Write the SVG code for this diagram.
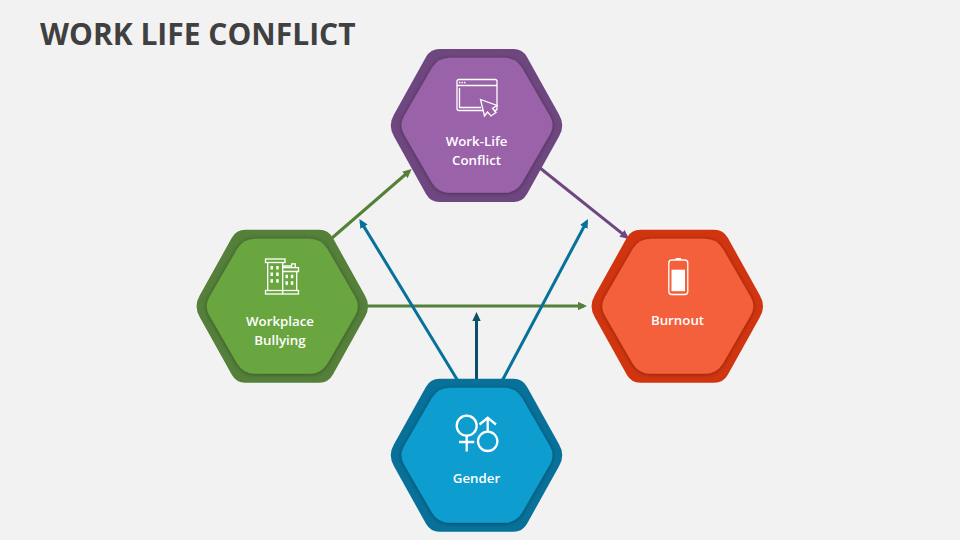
<svg xmlns="http://www.w3.org/2000/svg" width="960" height="540" viewBox="0 0 960 540">
<style>
text{font-family:"Open Sans","Liberation Sans",sans-serif}
.t{font-size:30px;font-weight:700;fill:#404040}
.l{font-size:13.300px;font-weight:600;fill:#fff;text-anchor:middle}
.c{fill:none;stroke-width:3}
.i{fill:none;stroke:#fff;stroke-width:1.300}
.w{fill:#fff}
.purple .o{fill:#6f4780}.purple .n{fill:#9a62a8}
.green .o{fill:#54803a}.green .n{fill:#6ba641}
.red .o{fill:#d1350f}.red .n{fill:#f4603b}
.blue .o{fill:#08719a}.blue .n{fill:#0a9dce}
</style>
<defs>
<path id="ho" d="M-37 -76.500H37Q46 -76.500 50.500 -68.500L82.500 -11Q89 0 82.500 11L50.500 68.500Q46 76.500 37 76.500H-37Q-46 76.500 -50.500 68.500L-82.500 11Q-89 0 -82.500 -11L-50.500 -68.500Q-46 -76.500 -37 -76.500Z"/>
<path id="hn" d="M-27 -67.500H27Q39 -67.500 45 -57.500L73 -9Q78 0 73 9L45 57.500Q39 67.500 27 67.500H-27Q-39 67.500 -45 57.500L-73 9Q-78 0 -73 -9L-45 -57.500Q-39 -67.500 -27 -67.500Z"/>
<filter id="s" x="-20%" y="-20%" width="140%" height="140%"><feDropShadow dx="0" dy="0.500" stdDeviation="2" flood-color="#000" flood-opacity="0.4"/></filter>
<marker id="ag" markerWidth="3" markerHeight="2.800" refX="2" refY="1.400" orient="auto"><path d="M0 0L3 1.400L0 2.800Z" fill="#54803a"/></marker>
<marker id="ap" markerWidth="3" markerHeight="2.800" refX="2" refY="1.400" orient="auto"><path d="M0 0L3 1.400L0 2.800Z" fill="#6f4780"/></marker>
<marker id="ab" markerWidth="3" markerHeight="2.800" refX="2" refY="1.400" orient="auto"><path d="M0 0L3 1.400L0 2.800Z" fill="#08719a"/></marker>
<marker id="ad" markerWidth="3" markerHeight="2.800" refX="2" refY="1.400" orient="auto"><path d="M0 0L3 1.400L0 2.800Z" fill="#0b5068"/></marker>
</defs>
<rect width="960" height="540" fill="#f2f2f2"/>
<text class="t" x="40" y="45">WORK LIFE CONFLICT</text>
<g id="connectors">
<line class="c" x1="332" y1="238" x2="409.400" y2="171" stroke="#54803a" marker-end="url(#ag)"/>
<line class="c" x1="367" y1="306" x2="584" y2="306" stroke="#54803a" marker-end="url(#ag)"/>
<line class="c" x1="540" y1="168" x2="626.700" y2="237.100" stroke="#6f4780" marker-end="url(#ap)"/>
<line class="c" x1="458" y1="381" x2="360.900" y2="221.600" stroke="#08719a" marker-end="url(#ab)"/>
<line class="c" x1="502" y1="381" x2="586.600" y2="221.700" stroke="#08719a" marker-end="url(#ab)"/>
<line class="c" x1="476.500" y1="380" x2="476.500" y2="315" stroke="#0b5068" marker-end="url(#ad)"/>
</g>
<g id="work-life-conflict" class="purple">
<use class="o" href="#ho" x="476.500" y="125.500"/>
<use class="n" href="#hn" x="477" y="125.300" filter="url(#s)"/>
<g class="i">
<rect x="457" y="79.500" width="40" height="31" rx="2"/>
<path d="M457 85.500H497M459.500 88V107.500H481"/>
<path d="M480.500 99.500L497 105.500L492.500 108.500L496 112.500L491 116L487.500 112L484.500 116Z" fill="#9a62a8"/>
</g>
<g class="w"><rect x="459" y="81.800" width="1.500" height="1.500"/><rect x="461.500" y="81.800" width="1.500" height="1.500"/><rect x="464" y="81.800" width="1.500" height="1.500"/></g>
<text class="l" x="476.500" y="145.500">Work-Life</text>
<text class="l" x="476.500" y="164.700">Conflict</text>
</g>
<g id="workplace-bullying" class="green">
<use class="o" href="#ho" x="282.300" y="306.300"/>
<use class="n" href="#hn" x="282.300" y="306.300" filter="url(#s)"/>
<g class="i">
<rect x="265.500" y="259" width="19.500" height="3.500"/>
<path d="M267.700 262.500V290.500M282.700 262.500V290.500"/>
<rect x="265.500" y="290.500" width="33" height="3.500"/>
<path d="M282.700 294V290.500M282.700 271.500H296.700V290.500M282.700 267.700H298.500V271.500H282.700M284 267.700V266H291.700V267.700M291.700 267.700V263.800H295.300V267.700"/>
</g>
<g class="w">
<rect x="270.500" y="266" width="2.500" height="3.500"/><rect x="276.200" y="266" width="2.500" height="3.500"/>
<rect x="270.500" y="272.500" width="2.500" height="3.500"/><rect x="276.200" y="272.500" width="2.500" height="3.500"/>
<rect x="270.500" y="279.200" width="2.500" height="3.500"/><rect x="276.200" y="279.200" width="2.500" height="3.500"/>
<rect x="285.500" y="274.700" width="2.500" height="3.500"/><rect x="290.800" y="274.700" width="2.500" height="3.500"/>
<rect x="285.500" y="281.300" width="2.500" height="3.500"/><rect x="290.800" y="281.300" width="2.500" height="3.500"/>
</g>
<text class="l" x="280" y="325.500">Workplace</text>
<text class="l" x="280" y="344.500">Bullying</text>
</g>
<g id="burnout" class="red">
<use class="o" href="#ho" x="677.300" y="306.300"/>
<use class="n" href="#hn" x="677.800" y="306.300" filter="url(#s)"/>
<rect class="i" x="668.800" y="260" width="19" height="34.500" rx="3"/>
<rect class="w" x="675.700" y="258" width="5.300" height="2"/>
<rect class="w" x="671.500" y="269.700" width="13.500" height="21.500"/>
<text class="l" x="677.500" y="324.500">Burnout</text>
</g>
<g id="gender" class="blue">
<use class="o" href="#ho" x="476.500" y="455.300"/>
<use class="n" href="#hn" x="477" y="455.300" filter="url(#s)"/>
<g fill="none" stroke="#fff" stroke-width="2.300">
<circle cx="466.700" cy="425.700" r="10"/>
<path d="M466.700 435.700V451.500M459 442H474.300"/>
<circle cx="487.700" cy="441.300" r="9.700"/>
<path d="M487.700 431.600V418M479.500 424.500L487.700 417.800L496 424.500"/>
</g>
<text class="l" x="476.500" y="482.500">Gender</text>
</g>
</svg>
